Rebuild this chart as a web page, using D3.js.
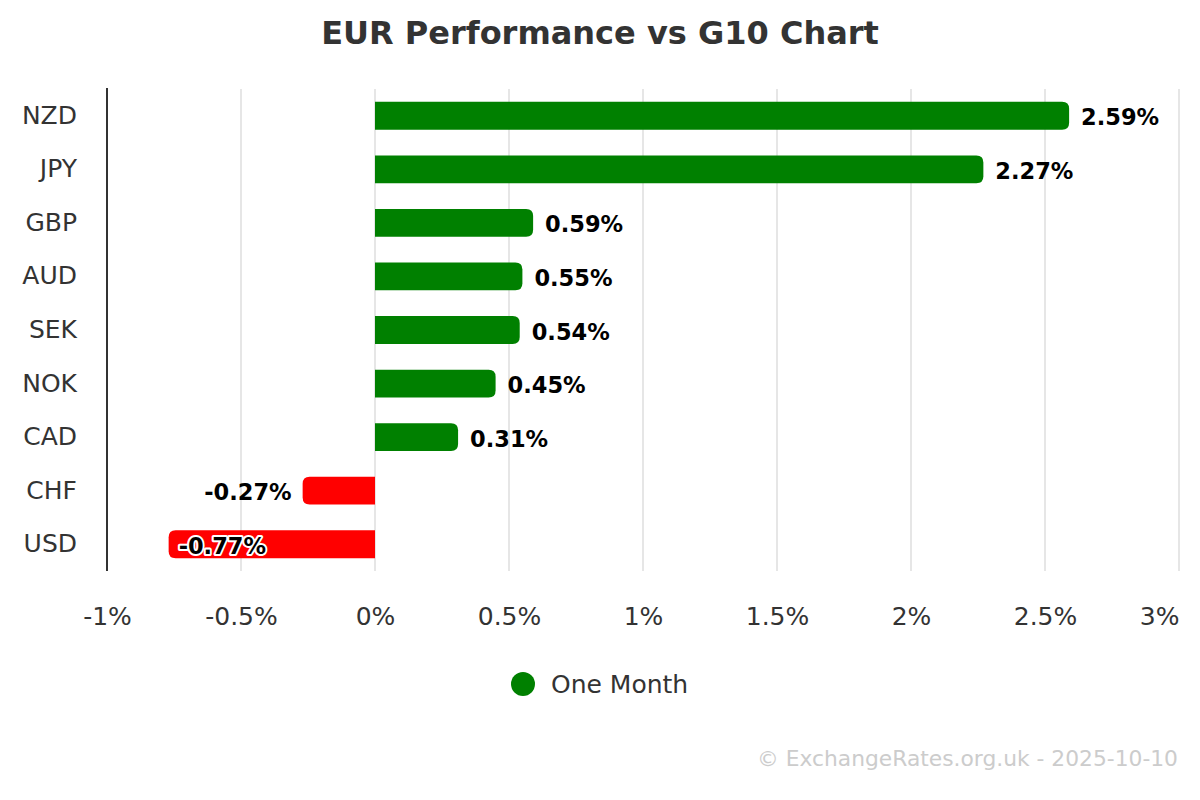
<!DOCTYPE html>
<html>
<head>
<meta charset="utf-8">
<script src="https://cdn.jsdelivr.net/npm/d3@7"></script>
<style>
  body { margin: 0; background: #fff; }
  svg, svg text { font-family: "DejaVu Sans", sans-serif; }
  svg { display: block; }
</style>
</head>
<body>
<svg id="chart" width="1200" height="800"></svg>
<script>
// chart data
var currencies = ['NZD', 'JPY', 'GBP', 'AUD', 'SEK', 'NOK', 'CAD', 'CHF', 'USD'];
var oneMonth = [2.59, 2.27, 0.59, 0.55, 0.54, 0.45, 0.31, -0.27, -0.77];
var tickValues = [-1, -0.5, 0, 0.5, 1, 1.5, 2, 2.5, 3];
var tickLabels = ['-1%', '-0.5%', '0%', '0.5%', '1%', '1.5%', '2%', '2.5%', '3%'];

var svg = d3.select('#chart');
var plot = { left: 107, right: 1179, top: 89, bottom: 571 };

var x = d3.scaleLinear().domain([-1, 3]).range([plot.left, plot.right]);
var y = d3.scaleBand().domain(currencies).range([plot.top, plot.bottom]).paddingInner(0.48).paddingOuter(0.24);

// title
svg.append('text')
  .attr('x', 600).attr('y', 44)
  .attr('text-anchor', 'middle')
  .style('font-size', '32px').style('font-weight', 'bold').style('fill', '#333')
  .text('EUR Performance vs G10 Chart');

// gridlines
svg.append('g')
  .selectAll('line')
  .data(tickValues.slice(1))
  .enter().append('line')
  .attr('x1', function (d) { return x(d); })
  .attr('x2', function (d) { return x(d); })
  .attr('y1', plot.top).attr('y2', plot.bottom)
  .attr('stroke', '#e6e6e6').attr('stroke-width', 2);

// x axis labels
var xAxis = d3.axisBottom(x)
  .tickValues(tickValues)
  .tickSize(0)
  .tickFormat(function (d, i) { return tickLabels[i]; });
var gx = svg.append('g').attr('transform', 'translate(0,' + (plot.bottom + 33) + ')').call(xAxis);
gx.attr('font-family', null).attr('font-size', null);
gx.select('.domain').remove();
gx.selectAll('text').style('font-size', '25px').style('fill', '#333');
// last label kept inside the chart
gx.selectAll('.tick').filter(function (d) { return d === 3; }).select('text')
  .attr('text-anchor', 'end');

// y axis
var yAxis = d3.axisLeft(y).tickSize(0).tickPadding(30);
var gy = svg.append('g').attr('transform', 'translate(' + plot.left + ',0)').call(yAxis);
gy.attr('font-family', null).attr('font-size', null);
gy.select('.domain').attr('stroke', '#333').attr('stroke-width', 2)
  .attr('d', 'M0,' + (plot.top - 1) + 'V' + plot.bottom);
gy.selectAll('text').style('font-size', '25px').style('fill', '#333');

// bars with rounded value end
var r = 7;
function barPath(d, i) {
  var y0 = y(currencies[i]), h = y.bandwidth();
  var x0 = x(0), x1 = x(d);
  var rr = Math.min(r, Math.abs(x1 - x0));
  if (d >= 0) {
    return 'M' + x0 + ',' + y0 + 'H' + (x1 - rr) + 'Q' + x1 + ',' + y0 + ' ' + x1 + ',' + (y0 + rr) +
      'V' + (y0 + h - rr) + 'Q' + x1 + ',' + (y0 + h) + ' ' + (x1 - rr) + ',' + (y0 + h) + 'H' + x0 + 'Z';
  }
  return 'M' + x0 + ',' + y0 + 'H' + (x1 + rr) + 'Q' + x1 + ',' + y0 + ' ' + x1 + ',' + (y0 + rr) +
    'V' + (y0 + h - rr) + 'Q' + x1 + ',' + (y0 + h) + ' ' + (x1 + rr) + ',' + (y0 + h) + 'H' + x0 + 'Z';
}

svg.append('g')
  .selectAll('path')
  .data(oneMonth)
  .enter().append('path')
  .attr('d', barPath)
  .attr('fill', function (d) { return d >= 0 ? '#008000' : '#ff0000'; });

// value labels
var labels = svg.append('g')
  .selectAll('text')
  .data(oneMonth)
  .enter().append('text')
  .attr('y', function (d, i) { return y(currencies[i]) + y.bandwidth() / 2 + 9.5; })
  .style('font-size', '22.5px').style('font-weight', 'bold').style('fill', '#000')
  .text(function (d) { return d.toFixed(2) + '%'; });

labels.each(function (d) {
  var t = d3.select(this);
  var w = this.getComputedTextLength();
  if (d >= 0) {
    t.attr('x', x(d) + 12).attr('text-anchor', 'start');
  } else if (x(d) - 12 - w < plot.left) {
    // not enough room outside: put it inside the bar with an outline
    t.attr('x', x(d) + 10).attr('text-anchor', 'start')
      .style('stroke', '#fff').style('stroke-width', 4).style('paint-order', 'stroke')
      .style('stroke-linejoin', 'round');
  } else {
    t.attr('x', x(d) - 11).attr('text-anchor', 'end');
  }
});

// legend
svg.append('circle').attr('cx', 523).attr('cy', 684).attr('r', 12).attr('fill', '#008000');
svg.append('text').attr('x', 551).attr('y', 693)
  .style('font-size', '25px').style('fill', '#333').text('One Month');

// credit
svg.append('text').attr('x', 1178).attr('y', 766).attr('text-anchor', 'end')
  .style('font-size', '21.8px').style('fill', '#ccc')
  .text('\u00a9 ExchangeRates.org.uk - 2025-10-10');
</script>
</body>
</html>
